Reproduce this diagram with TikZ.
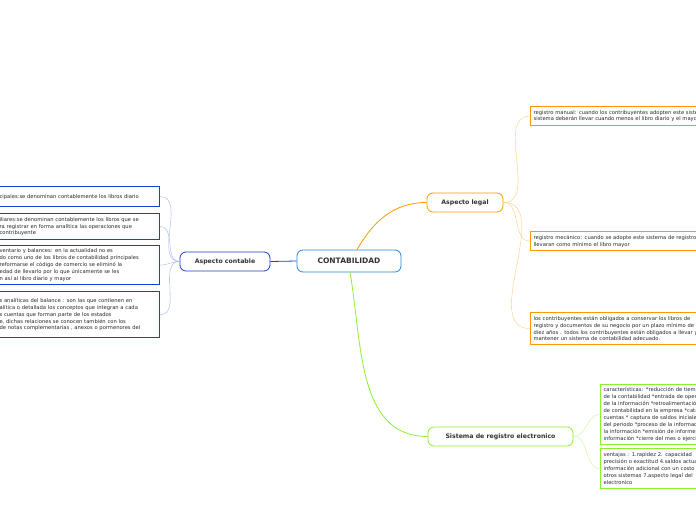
\documentclass[tikz,border=0pt]{standalone}
\usepackage{fontspec}
\setmainfont{DejaVu Sans}
\begin{document}
\begin{tikzpicture}[x=1pt,y=1pt,
  txt/.style={font=\fontsize{5.2}{6.9}\selectfont, align=left, inner sep=3pt, text=black!85},
  leaf/.style={txt, draw, line width=1.2pt, anchor=north west},
  branch/.style={draw, rounded corners=6pt, line width=0.8pt, fill=white, font=\fontsize{6.2}{7}\selectfont\bfseries, text=black!80, minimum height=19pt, inner xsep=8pt},
  lk/.style={line width=0.4pt}]
\useasboundingbox (0,0) rectangle (696,-520);
\clip (0,0) rectangle (696,-520);
\definecolor{cblue}{HTML}{1E88E5}
\definecolor{dblue}{HTML}{1A3FD6}
\definecolor{corange}{HTML}{FF9800}
\definecolor{cgreen}{HTML}{8CF02C}

\node[branch, draw=cblue, minimum width=104pt, minimum height=22pt, font=\fontsize{7.5}{8}\selectfont\bfseries] (c) at (349,-261) {CONTABILIDAD};
\node[branch, draw=corange, minimum width=76pt] (al) at (465,-202.5) {Aspecto legal};
\node[branch, draw=dblue, minimum width=90pt] (ac) at (225,-261.5) {Aspecto contable};
\node[branch, draw=cgreen, minimum width=145pt] (se) at (500.5,-436.5) {Sistema de registro electronico};

\draw[corange, line width=0.8pt] (c.north) ++(8,0) coordinate (c1) to[out=60,in=180] (al.west);
\draw[dblue, line width=0.8pt] (c.west) -- (ac.east);
\draw[cgreen, line width=0.8pt] (c.south) ++(1,0) coordinate (c2) to[out=-80,in=180] (se.west);

% legal leaves
\node[leaf, draw=corange, text width=200pt, minimum height=19pt] (l1) at (530,-106) {registro manual: cuando los contribuyentes adopten este sistema\\sistema deberán llevar cuando menos el libro diario y el mayor};
\node[leaf, draw=corange, text width=200pt, minimum height=19pt] (l2) at (530,-231) {registro mecánico: cuando se adopte este sistema de registro\\llevaran como mínimo el libro  mayor};
\node[leaf, draw=corange, text width=200pt, minimum height=32pt] (l3) at (530,-312) {los contribuyentes están obligados  a   conservar los libros de\\registro y documentos de su negocio  por un plazo mínimo de\\diez años . todos los contribuyentes están obligados a llevar y\\mantener un sistema de contabilidad adecuado.};
\foreach \n in {l1,l2,l3} \draw[corange!50, lk] (al.east) to[out=0,in=180] (\n.west);

% contable leaves
\node[leaf, draw=dblue, text width=157pt, minimum height=20pt] (k1) at (-4,-186) {cipales:se denominan contablemente los libros diario};
\node[leaf, draw=dblue, text width=157pt, minimum height=26pt] (k2) at (-4,-213) {iliares:se denominan contablemente los libros que se\\ra registrar  en forma analítica las operaciones que\\contribuyente};
\node[leaf, draw=dblue, text width=157pt, minimum height=39pt] (k3) at (-4,-245) {ventario y balances: en la actualidad no es\\do como uno de los libros de contabilidad principales\\reformarse el código de comercio se eliminó la\\edad de llevarlo por lo que únicamente se les\\n así al libro diario y mayor};
\node[leaf, draw=dblue, text width=157pt, minimum height=46pt] (k4) at (-4,-291) {s analíticas del balance : son las que contienen en\\alítica  o detallada los conceptos  que integran a cada\\s cuentas que forman parte de los estados\\e, dichas relaciones se conocen también con los\\de notas complementarias , anexos o pormenores del};
\foreach \n in {k1,k2,k3,k4} \draw[dblue!40, lk] (ac.west) to[out=180,in=0] (\n.east);

% electronic leaves
\node[leaf, draw=cgreen, text width=200pt, minimum height=59pt] (e1) at (600,-384) {características: *reducción de tiempo\\de la contabilidad *entrada de operaciones\\de la información *retroalimentación\\de contabilidad en la empresa *catálogo de\\cuentas * captura de saldos iniciales\\del periodo  *proceso de la información\\la información *emisión de informes\\información *cierre del mes o ejercicio};
\node[leaf, draw=cgreen, text width=200pt, minimum height=40pt] (e2) at (600,-448) {ventajas : 1.rapidez 2. capacidad\\precisión o exactitud 4.saldos actualizados\\información adicional con un costo\\otros sistemas 7.aspecto legal del\\electronico};
\foreach \n in {e1,e2} \draw[cgreen!50, lk] (se.east) to[out=0,in=180] (\n.west);
\end{tikzpicture}
\end{document}
